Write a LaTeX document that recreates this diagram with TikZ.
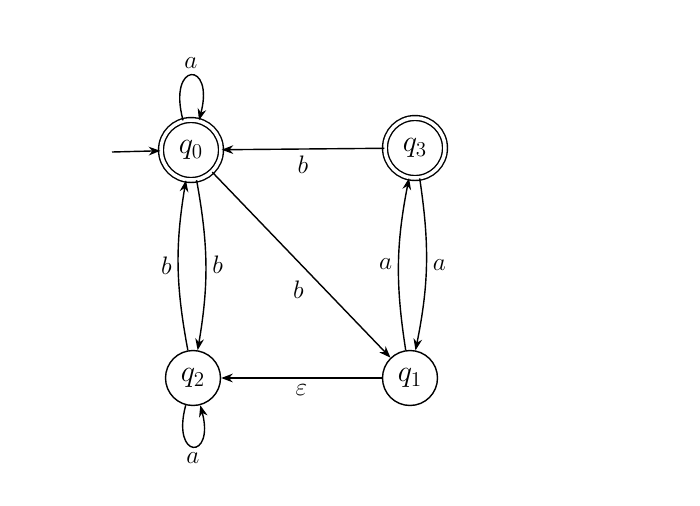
\documentclass[tikz,border=0pt]{standalone}
\usetikzlibrary{arrows.meta,automata}
\begin{document}
\begin{tikzpicture}[x=0.02cm,y=-0.02cm,>=Stealth,
  st/.style={circle,draw,thick,minimum size=1.1cm,inner sep=0pt,font=\LARGE},
  acc/.style={st,double,double distance=2pt,minimum size=1.2cm},
  lbl/.style={font=\Large},
  every edge/.style={draw,thick,->}]
\useasboundingbox (0,0) rectangle (700,505);
\node[acc] (q0) at (191,150) {$q_0$};
\node[acc] (q3) at (415,148) {$q_3$};
\node[st] (q2) at (193,378) {$q_2$};
\node[st] (q1) at (410,378) {$q_1$};
\coordinate (s) at (112,152);
\draw[thick,->] (s) -- (q0);
\path (q0) edge[out=105,in=75,looseness=10] node[lbl,above]{$a$} (q0)
      (q2) edge[out=-105,in=-75,looseness=10] node[lbl,below]{$a$} (q2)
      (q3) edge node[lbl,below]{$b$} (q0)
      (q0) edge[bend left=10] node[lbl,right]{$b$} (q2)
      (q2) edge[bend left=10] node[lbl,left]{$b$} (q0)
      (q0) edge node[lbl,below left,pos=0.55]{$b$} (q1)
      (q1) edge[bend left=10] node[lbl,left]{$a$} (q3)
      (q3) edge[bend left=10] node[lbl,right]{$a$} (q1)
      (q1) edge node[lbl,below]{$\varepsilon$} (q2);
\end{tikzpicture}
\end{document}
